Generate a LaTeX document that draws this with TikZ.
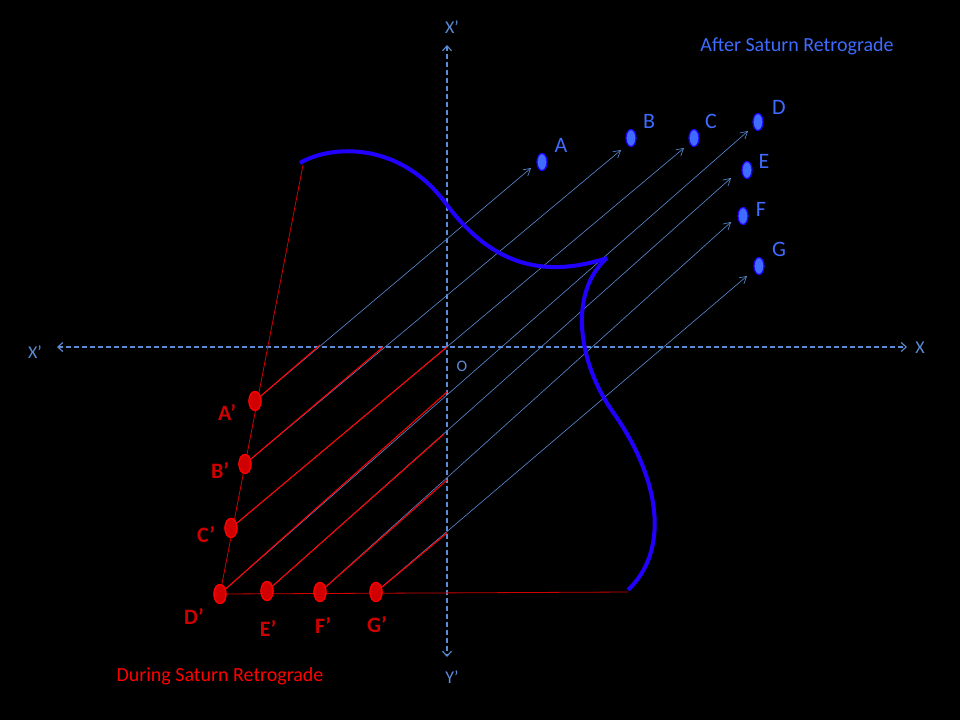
\documentclass[tikz,border=0pt]{standalone}
\usepackage{fontspec}
\setmainfont{Carlito}
\usetikzlibrary{arrows.meta,shapes.geometric}
\definecolor{ax}{HTML}{5B8DD6}
\definecolor{lb}{HTML}{3F6BFF}
\definecolor{rd}{HTML}{D00000}
\definecolor{cv}{HTML}{2200FF}
\tikzset{
 bdot/.style={ellipse,draw=cv,fill=lb,line width=1.2pt,minimum width=10pt,minimum height=17pt,inner sep=0pt},
 rdot/.style={ellipse,draw=red,fill=rd,line width=1.2pt,minimum width=12pt,minimum height=19pt,inner sep=0pt},
 blab/.style={text=lb,font=\fontsize{22}{22}\selectfont},
 rlab/.style={text=rd,font=\bfseries\fontsize{22}{22}\selectfont},
 axl/.style={text=ax,font=\fontsize{18}{18}\selectfont},
 proj/.style={draw=ax,line width=0.6pt,-{Straight Barb[length=7pt,width=8pt]}},
 rseg/.style={draw=red,line width=1.1pt},
 axisln/.style={draw=ax,line width=1.1pt,dash pattern=on 5pt off 3pt,{Straight Barb[length=5pt,width=9pt]}-{Straight Barb[length=5pt,width=9pt]}}
}
\begin{document}
\begin{tikzpicture}[x=1pt,y=-1pt]
\fill[black] (0,0) rectangle (960,720);
\useasboundingbox (0,0) rectangle (960,720);
% axes
\coordinate (xl) at (57,347); \coordinate (xr) at (907,347);
\coordinate (yt) at (447,45); \coordinate (yb) at (447,657);
\draw[axisln] (xl) -- (xr);
\draw[axisln] (yt) -- (yb);
\node[axl] (lxl) at (35,352) {X’};
\node[axl] (lxr) at (920,348) {X};
\node[axl] (lyt) at (452,27) {X’};
\node[axl] (lyb) at (452,677) {Y’};
\node[axl,font=\fontsize{16}{16}\selectfont] (lo) at (462,366) {O};
% red thin lines
\coordinate (top) at (303,165); \coordinate (hr) at (628,592);
% dots
\node[rdot] (Ap) at (255,401) {};
\node[rdot] (Bp) at (245,464) {};
\node[rdot] (Cp) at (231,528) {};
\node[rdot] (Dp) at (220,594) {};
\node[rdot] (Ep) at (267,591) {};
\node[rdot] (Fp) at (320,592) {};
\node[rdot] (Gp) at (376,592) {};
\draw[rd,line width=0.8pt] (Dp.center) -- (top);
\draw[rd,line width=0.8pt] (Dp.center) -- (hr);
\node[bdot] (A) at (542,162) {};
\node[bdot] (B) at (631,138) {};
\node[bdot] (C) at (694,138) {};
\node[bdot] (D) at (758,122) {};
\node[bdot] (E) at (747,170) {};
\node[bdot] (F) at (743,216) {};
\node[bdot] (G) at (759,266) {};
% projection lines
\draw[proj] (Ap) -- (531,168);
\draw[proj] (Bp) -- (621,150);
\draw[proj] (Cp) -- (684,148);
\draw[proj] (Dp) -- (748,131);
\draw[proj] (Ep) -- (731,178);
\draw[proj] (Fp) -- (731,222);
\draw[proj] (Gp) -- (747,276);
% red segments
\draw[rseg] (Ap) -- (320,345);
\draw[rseg] (Bp) -- (383,347);
\draw[rseg] (Cp) -- (447,347);
\draw[rseg] (Dp) -- (447,392);
\draw[rseg] (Ep) -- (444,434);
\draw[rseg] (Fp) -- (447,480);
\draw[rseg] (Gp) -- (447,533);
% redraw dots on top
\foreach \p in {{255,401},{245,464},{231,528},{220,594},{267,591},{320,592},{376,592}}
  \node[rdot] at (\p) {};
% curve
\draw[cv,line width=4pt] (300,163) .. controls (330,145) and (400,140) .. (447,205)
  .. controls (490,262) and (540,280) .. (607,258);
\draw[cv,line width=4pt] (607,258) .. controls (570,290) and (575,360) .. (615,415)
  .. controls (660,480) and (670,550) .. (628,590);
% labels
\node[blab] (lA) at (561,145) {A};
\node[blab] (lB) at (649,121) {B};
\node[blab] (lC) at (711,121) {C};
\node[blab] (lD) at (779,107) {D};
\node[blab] (lE) at (764,161) {E};
\node[blab] (lF) at (761,209) {F};
\node[blab] (lG) at (779,249) {G};
\node[rlab] (lAp) at (227,412) {A’};
\node[rlab] (lBp) at (220,470) {B’};
\node[rlab] (lCp) at (206,535) {C’};
\node[rlab] (lDp) at (194,616) {D’};
\node[rlab] (lEp) at (268,628) {E’};
\node[rlab] (lFp) at (323,625) {F’};
\node[rlab] (lGp) at (377,625) {G’};
\node[text=lb,font=\fontsize{20}{20}\selectfont] (t1) at (797,46) {After Saturn Retrograde};
\node[text=red,font=\fontsize{20}{20}\selectfont] (t2) at (220,676) {During Saturn Retrograde};
\end{tikzpicture}
\end{document}
